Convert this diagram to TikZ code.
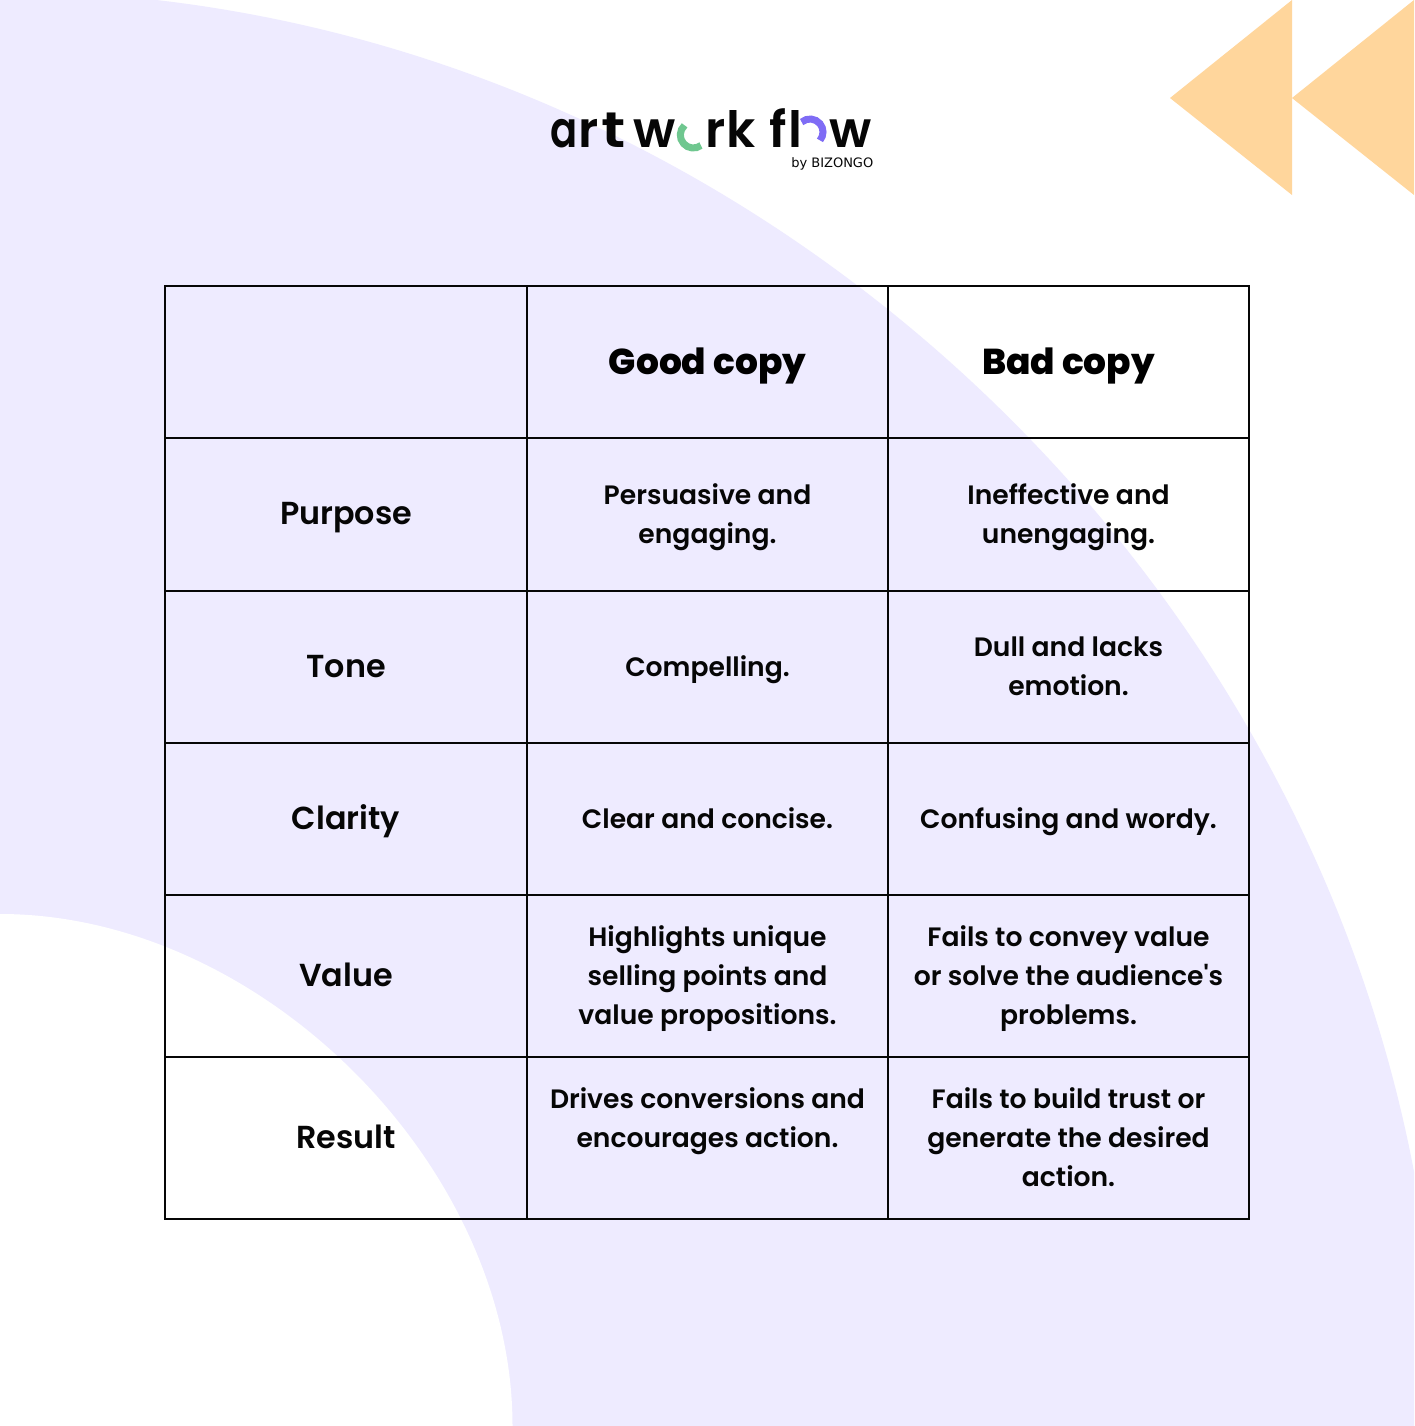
\documentclass[tikz,border=0pt]{standalone}
\usepackage{fontspec}
\setmainfont{Poppins SemiBold}
\newfontfamily\headfont{Poppins ExtraBold}
\newfontfamily\logofont{Poppins SemiBold}
\newfontfamily\byfont{DejaVu Sans}
\definecolor{lav}{HTML}{EEEBFF}
\definecolor{peach}{HTML}{FFD69C}
\definecolor{lgreen}{HTML}{6FC78F}
\definecolor{lpurple}{HTML}{7F6CF5}
\definecolor{ink}{HTML}{060606}
\newcommand\bs{\rule[-10.3pt]{0pt}{39pt}}
\newcommand\rs{\rule[-9.5pt]{0pt}{39pt}}
\newcommand\hs{\rule[-4.5pt]{0pt}{39pt}}
\tikzset{
  cellbox/.style={draw=ink,line width=1.9pt,minimum width=361pt,anchor=north west,inner sep=0pt,outer sep=0pt},
  firstcol/.style={cellbox,minimum width=362pt},
  rowhead/.style={font=\fontsize{31.8}{39}\selectfont,text=ink,align=center},
  colhead/.style={font=\headfont\fontsize{36}{39}\selectfont,text=black,align=center},
  body/.style={font=\fontsize{26.6}{39}\selectfont,text=ink,align=center},
  logotext/.style={font=\logofont\fontsize{50}{50}\selectfont,text=ink,inner sep=0pt,anchor=base},
}
\begin{document}
\begin{tikzpicture}[x=1pt,y=-1pt]
\useasboundingbox (0,0) rectangle (1414,1426);
\fill[white] (0,0) rectangle (1414,1426);
\begin{scope}
\clip (0,0) rectangle (1414,1426);
\fill[lav] (0,-9) .. controls (773,-9) and (1438,650) .. (1438,1426) -- (0,1426) -- cycle;
\fill[white] (0,914) .. controls (261,914) and (512.5,1165) .. (512.5,1426) -- (0,1426) -- cycle;
\end{scope}
\fill[peach] (1292,0) -- (1170,98) -- (1292,195) -- cycle;
\fill[peach] (1414,0) -- (1292,98) -- (1414,195) -- cycle;
% logo
\node[logotext,transform shape,xscale=.8] (l1) at (564,147) {a};
\node[logotext] (l2) at (589,147) {r};
\node[logotext,transform shape,xscale=1.25] (l3) at (614,147) {t};
\node[logotext] (l4) at (655,147) {w};
\node[logotext] (l5) at (716,147) {r};
\node[logotext] (l6) at (741,147) {k};
\node[logotext] (l7) at (778,147) {f};
\node[logotext] (l8) at (795,147) {l};
\node[logotext] (l9) at (851,147) {w};
\draw[lgreen,line width=7pt] (693.3,135) ++(-132:13) arc[start angle=-132,end angle=-306,radius=13];
\draw[lpurple,line width=7pt] (810,132) ++(-130:13) arc[start angle=-130,end angle=40,radius=13];
\node[font=\byfont\fontsize{13}{16}\selectfont,text=ink,anchor=base east,inner sep=0pt] (by) at (873.5,167) {by BIZONGO};
% table
\node[firstcol,minimum height=152pt] (c00) at (165,286) {};
\node[cellbox,minimum height=152pt,colhead] (c01) at (527,286) {\hs Good copy};
\node[cellbox,minimum height=152pt,colhead] (c02) at (888,286) {\hs Bad copy};
\node[firstcol,minimum height=153pt,rowhead] (c10) at (165,438) {\rs Purpose};
\node[cellbox,minimum height=153pt,body] (c11) at (527,438) {\bs Persuasive and\\\bs engaging.};
\node[cellbox,minimum height=153pt,body] (c12) at (888,438) {\bs Ineffective and\\\bs unengaging.};
\node[firstcol,minimum height=152pt,rowhead] (c20) at (165,591) {\rs Tone};
\node[cellbox,minimum height=152pt,body] (c21) at (527,591) {\bs Compelling.};
\node[cellbox,minimum height=152pt,body] (c22) at (888,591) {\bs Dull and lacks\\\bs emotion.};
\node[firstcol,minimum height=152pt,rowhead] (c30) at (165,743) {\rs Clarity};
\node[cellbox,minimum height=152pt,body] (c31) at (527,743) {\bs Clear and concise.};
\node[cellbox,minimum height=152pt,body] (c32) at (888,743) {\bs Confusing and wordy.};
\node[firstcol,minimum height=162pt,rowhead] (c40) at (165,895) {\rs Value};
\node[cellbox,minimum height=162pt,body] (c41) at (527,895) {\bs Highlights unique\\\bs selling points and\\\bs value propositions.};
\node[cellbox,minimum height=162pt,body] (c42) at (888,895) {\bs Fails to convey value\\\bs or solve the audience\textquotesingle s\\\bs problems.};
\node[firstcol,minimum height=162pt,rowhead] (c50) at (165,1057) {\rs Result};
\node[cellbox,minimum height=162pt,body] (c51) at (527,1057) {\bs Drives conversions and\\\bs encourages action.\\\bs};
\node[cellbox,minimum height=162pt,body] (c52) at (888,1057) {\bs Fails to build trust or\\\bs generate the desired\\\bs action.};
\end{tikzpicture}
\end{document}
